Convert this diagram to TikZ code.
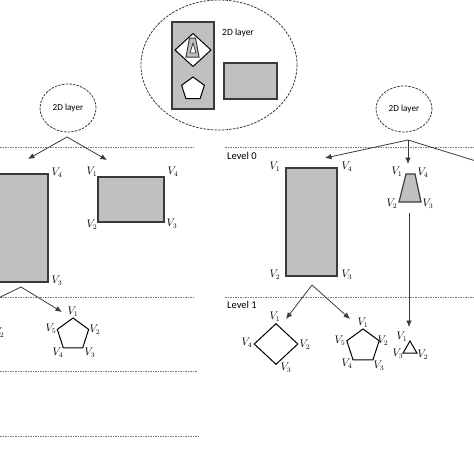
\documentclass[tikz,border=0pt]{standalone}
\usepackage{fontspec}
\setmainfont{Carlito}
\usetikzlibrary{shapes.geometric,arrows.meta}
\definecolor{shapegray}{RGB}{192,192,192}
\definecolor{edgegray}{RGB}{58,58,58}
\definecolor{guidegray}{RGB}{120,120,120}
\tikzset{
  layer/.style={ellipse, draw=edgegray, line width=.8pt, dash pattern=on 2.5pt off 1.2pt, inner sep=0pt},
  guide/.style={draw=guidegray, line width=.6pt, dash pattern=on 1.5pt off 1pt},
  face/.style={draw=edgegray, fill=shapegray, line width=1.2pt, inner sep=0pt},
  outline/.style={draw=black, line width=1pt, inner sep=0pt},
  link/.style={draw=edgegray, line width=.8pt, -{Latex[length=6.5pt,width=5.5pt]}},
  vtx/.style={inner sep=0pt, font=\fontsize{10.5}{10.5}\selectfont},
  lvl/.style={inner sep=0pt, anchor=west, font=\fontsize{10.5}{10.5}\selectfont}
}
\begin{document}
\begin{tikzpicture}[x=1pt, y=-1pt]
  \useasboundingbox (0,0) rectangle (474,474);
  \clip (0,0) rectangle (474,474);

  % level guides
  \foreach \y/\e in {147/193, 297/193, 371/197, 436/200}
    \draw[guide] (0,\y) -- (\e,\y);
  \foreach \y in {147, 297}
    \draw[guide] (225,\y) -- (474,\y);

  % top: the whole 2D layer
  \node[layer, minimum width=156pt, minimum height=130pt] (layerTop) at (219,65) {};
  \node[inner sep=0pt, font=\fontsize{9.5}{9.5}\selectfont] (layerTopText) at (238,33) {2D layer};
  \node[face, minimum width=42pt, minimum height=87pt] (topTall) at (193,65.5) {};
  \node[face, minimum width=53pt, minimum height=36pt] (topWide) at (250.5,81) {};
  \draw[draw=black, fill=white, line width=1pt]
    (193,33.5) -- (211,50) -- (193,66.5) -- (175,50) -- cycle;
  \draw[face, line width=1pt] (189.5,38) -- (195.5,38) -- (199,57) -- (186,57) -- cycle;
  \draw[draw=edgegray, fill=white, line width=.8pt] (193,43) -- (196,53) -- (190,53) -- cycle;
  \node[outline, fill=white, regular polygon, regular polygon sides=5, minimum size=24pt] (topPenta) at (193,89) {};

  % left tree
  \node[layer, minimum width=56pt, minimum height=48pt, font=\fontsize{9.2}{9.2}\selectfont] (layerL) at (68,108) {2D layer};
  \coordinate (splitA) at (67,137);
  \coordinate (tipA1) at (28,159);
  \coordinate (tipA2) at (107,160);
  \draw[link] (splitA) -- (tipA1);
  \draw[link] (splitA) -- (tipA2);

  \node[face, minimum width=51pt, minimum height=108pt] (tallL) at (22.5,228) {};
  \node[vtx] at (57,173) {$V_4$};
  \node[vtx] at (57,281) {$V_3$};

  \node[face, minimum width=66pt, minimum height=45pt] (wideL) at (131,199.5) {};
  \node[vtx] at (92,172) {$V_1$};
  \node[vtx] at (173,172) {$V_4$};
  \node[vtx] at (92,225) {$V_2$};
  \node[vtx] at (172,224) {$V_3$};

  \coordinate (splitB) at (21,287);
  \coordinate (tipB1) at (-12,303);
  \coordinate (tipB2) at (62,312);
  \draw[link] (splitB) -- (tipB1);
  \draw[link] (splitB) -- (tipB2);
  \node[vtx] at (-1,333) {$V_2$};

  \node[outline, regular polygon, regular polygon sides=5, minimum size=33pt] (pentaL) at (73,334.5) {};
  \node[vtx] at (73,312) {$V_1$};
  \node[vtx] at (95,330) {$V_2$};
  \node[vtx] at (90,353) {$V_3$};
  \node[vtx] at (58,353) {$V_4$};
  \node[vtx] at (51,329) {$V_5$};

  % right tree
  \node[layer, minimum width=56pt, minimum height=46pt, font=\fontsize{9.2}{9.2}\selectfont] (layerR) at (404,109) {2D layer};
  \node[lvl] (level0) at (227,156) {Level 0};
  \node[lvl] (level1) at (227,305) {Level 1};

  \coordinate (splitC) at (408,140);
  \coordinate (tipC1) at (325,158);
  \coordinate (tipC2) at (408,164);
  \coordinate (tipC3) at (492,166);
  \draw[link] (splitC) -- (tipC1);
  \draw[link] (splitC) -- (tipC2);
  \draw[link] (splitC) -- (tipC3);

  \node[face, minimum width=51pt, minimum height=108pt] (tallR) at (311.5,222) {};
  \node[vtx] at (275,167) {$V_1$};
  \node[vtx] at (347,167) {$V_4$};
  \node[vtx] at (275,275) {$V_2$};
  \node[vtx] at (347,275) {$V_3$};

  \draw[face] (406,174) -- (415,174) -- (421,202) -- (399,202) -- cycle;
  \coordinate (trapBase) at (409,213);
  \coordinate (tipE) at (409,327);
  \draw[link] (trapBase) -- (tipE);
  \node[vtx] at (397,172) {$V_1$};
  \node[vtx] at (423,173) {$V_4$};
  \node[vtx] at (392,204) {$V_2$};
  \node[vtx] at (428,204) {$V_3$};

  \coordinate (splitD) at (312,285);
  \coordinate (tipD1) at (286,319);
  \coordinate (tipD2) at (350,319);
  \draw[link] (splitD) -- (tipD1);
  \draw[link] (splitD) -- (tipD2);

  \node[outline, diamond, minimum width=44pt, minimum height=41pt] (diaR) at (276,344) {};
  \node[vtx] at (275,317) {$V_1$};
  \node[vtx] at (305,345) {$V_2$};
  \node[vtx] at (286,368) {$V_3$};
  \node[vtx] at (247,343) {$V_4$};

  \node[outline, regular polygon, regular polygon sides=5, minimum size=34pt] (pentaR) at (363,346) {};
  \node[vtx] at (363,323) {$V_1$};
  \node[vtx] at (383,341) {$V_2$};
  \node[vtx] at (379,366) {$V_3$};
  \node[vtx] at (347,364) {$V_4$};
  \node[vtx] at (340,341) {$V_5$};

  \node[outline, regular polygon, regular polygon sides=3, minimum size=16pt] (triR) at (410,349) {};
  \node[vtx] at (402,337) {$V_1$};
  \node[vtx] at (398,354) {$V_3$};
  \node[vtx] at (423,355) {$V_2$};
\end{tikzpicture}
\end{document}
